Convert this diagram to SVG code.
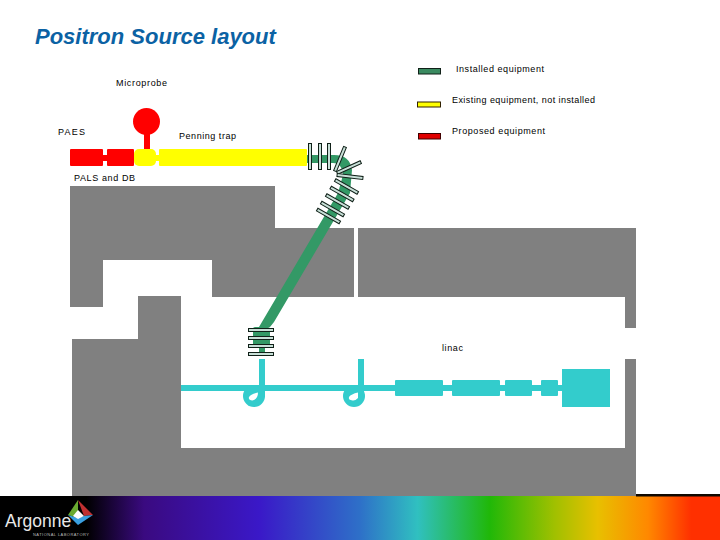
<svg xmlns="http://www.w3.org/2000/svg" width="720" height="540" viewBox="0 0 720 540">
<defs>
<linearGradient id="spec" x1="0" y1="0" x2="1" y2="0">
<stop offset="0" stop-color="#000"/>
<stop offset="0.12" stop-color="#000"/>
<stop offset="0.2" stop-color="#3a0a80"/>
<stop offset="0.36" stop-color="#3a18c8"/>
<stop offset="0.5" stop-color="#2e70c8"/>
<stop offset="0.58" stop-color="#30c0c0"/>
<stop offset="0.68" stop-color="#20b808"/>
<stop offset="0.77" stop-color="#a0c000"/>
<stop offset="0.83" stop-color="#e8c000"/>
<stop offset="0.9" stop-color="#ff8800"/>
<stop offset="0.96" stop-color="#ff3000"/>
<stop offset="1" stop-color="#ff3000"/>
</linearGradient>
</defs>
<style>
text{font-family:"Liberation Sans",Arial,sans-serif;font-size:9px;fill:#000}
.g{fill:#808080}.t{fill:#33cccc}.b{fill:#339966}.y{fill:#ffff00}.r{fill:#ff0000}
.f{fill:#c8e0d8;stroke:#102018;stroke-width:1}
.h{fill:#fff}
</style>
<rect width="720" height="540" fill="#fff"/>
<text x="35" y="44" style="font-size:22px;font-weight:bold;font-style:italic;fill:#0b62a4">Positron Source layout</text>
<g id="building">
<path class="g" d="M70 186H275V228H354V297H212V260H103V307H70Z"/>
<rect class="g" x="358" y="228" width="278" height="69"/>
<rect class="g" x="625" y="297" width="11" height="31"/>
<rect class="g" x="625" y="359" width="11" height="89"/>
<path class="g" d="M138 296H181V448H636V496H72V339H138Z"/>
</g>
<g id="spectrum-bar">
<rect y="496" width="720" height="44" fill="url(#spec)"/>
<rect x="636" y="494" width="84" height="2.500" fill="#100800"/>
<g id="argonne-logo">
<path d="M78 500L68 515L78 518Z" fill="#6aaa30"/>
<path d="M78 500L93 515L84 516Z" fill="#c03030"/>
<path d="M68 515L78 525L93 515L84 516L78 518Z" fill="#3aa0e0"/>
<path d="M73 516L78 510L84 516L78 519Z" fill="#fff"/>
<text x="5" y="527" style="font-size:17.500px;fill:#e8e8e8">Argonne</text>
<text x="33" y="535.500" textLength="56" style="font-size:4px;fill:#bbb">NATIONAL LABORATORY</text>
</g>
</g>
<g id="connectors">
<path d="M147 130V150" stroke="#ff0000" stroke-width="6" fill="none"/>
<path d="M134 158H306" stroke="#ffff00" stroke-width="6" fill="none"/>
<path d="M70 158H134" stroke="#ff0000" stroke-width="6" fill="none"/>
<path class="b" d="M306 155H334Q350 155 352 170L350 193L274 322L270 327H259L338 193L343 175Q342 163 333 163H306Z"/>
<rect class="b" x="259" y="345" width="6" height="8"/>
<path d="M181 388H562" stroke="#33cccc" stroke-width="6" fill="none"/>
<path d="M262 359V397" stroke="#33cccc" stroke-width="6" fill="none"/>
<path d="M361 359V397" stroke="#33cccc" stroke-width="6" fill="none"/>
<circle class="t" cx="254" cy="396" r="11"/>
<circle class="t" cx="354" cy="396" r="11"/>
<path class="h" d="M258 392.500Q258 399 252.500 400.500Q248 400 249 397Q251 394 258 392.500Z"/>
<path class="h" d="M358 392.500V398Q355 401 352.500 400.500Q348 400 349 397Q351 394 358 392.500Z"/>
</g>
<g id="paes"><rect class="r" x="70" y="149" width="33" height="17" rx="1"/><rect class="r" x="107" y="149" width="27" height="17" rx="1"/></g>
<g id="microprobe"><circle class="r" cx="146.500" cy="121.500" r="13.500"/><rect class="y" x="134" y="149" width="22" height="17" rx="5"/></g>
<g id="penning-trap"><rect class="y" x="159" y="149" width="148" height="17" rx="1"/></g>
<g id="beamline-optics">
<rect class="f" x="308.500" y="143.500" width="3" height="26"/>
<rect class="f" x="318.500" y="143.500" width="3" height="26"/>
<rect class="f" x="327.500" y="143.500" width="3" height="26"/>
<rect class="f" x="-13" y="-1.500" width="26" height="3" transform="translate(340 159) rotate(-67.400)"/>
<rect class="f" x="-13" y="-1.500" width="26" height="3" transform="translate(349 167.500) rotate(-24.600)"/>
<rect class="f" x="-13" y="-1.500" width="26" height="3" transform="translate(350 176.500) rotate(6.600)"/>
<rect class="f" x="-13" y="-1.500" width="26" height="3" transform="translate(346.500 186.500) rotate(29.500)"/>
<rect class="f" x="-13" y="-1.500" width="26" height="3" transform="translate(342 194) rotate(29.500)"/>
<rect class="f" x="-13" y="-1.500" width="26" height="3" transform="translate(337.500 201.500) rotate(29.500)"/>
<rect class="f" x="-13" y="-1.500" width="26" height="3" transform="translate(332.500 209) rotate(29.500)"/>
<rect class="f" x="-13" y="-1.500" width="26" height="3" transform="translate(328.500 216) rotate(29.500)"/>
<rect class="b" x="253" y="327" width="17" height="21" rx="2"/>
<rect class="f" x="248.500" y="328.500" width="25" height="3"/>
<rect class="f" x="248.500" y="336.500" width="25" height="3"/>
<rect class="f" x="248.500" y="344.500" width="25" height="3"/>
<rect class="f" x="248.500" y="352.500" width="25" height="3"/>
</g>
<g id="linac">
<rect class="t" x="395" y="380" width="48" height="16" rx="1"/>
<rect class="t" x="452" y="380" width="48" height="16" rx="1"/>
<rect class="t" x="505" y="380" width="27" height="16" rx="1"/>
<rect class="t" x="541" y="380" width="17" height="16" rx="1"/>
<rect class="t" x="562" y="369" width="48" height="38"/>
</g>
<g id="legend">
<rect x="418.500" y="68.500" width="22" height="5.500" fill="#3a8a60" stroke="#102018"/>
<rect class="y" x="417.500" y="102" width="23" height="5" stroke="#302000"/>
<rect x="418.500" y="133.500" width="22" height="5.500" fill="#e00000" stroke="#400000"/>
<text x="456" y="72" textLength="88">Installed equipment</text>
<text x="452" y="103" textLength="143">Existing equipment, not installed</text>
<text x="452" y="134" textLength="93">Proposed equipment</text>
</g>
<g id="labels">
<text x="116" y="86" textLength="51">Microprobe</text>
<text x="58" y="135" textLength="27">PAES</text>
<text x="179" y="139" textLength="57">Penning trap</text>
<text x="74" y="181" textLength="61">PALS and DB</text>
<text x="442" y="351" textLength="21">linac</text>
</g>
</svg>
